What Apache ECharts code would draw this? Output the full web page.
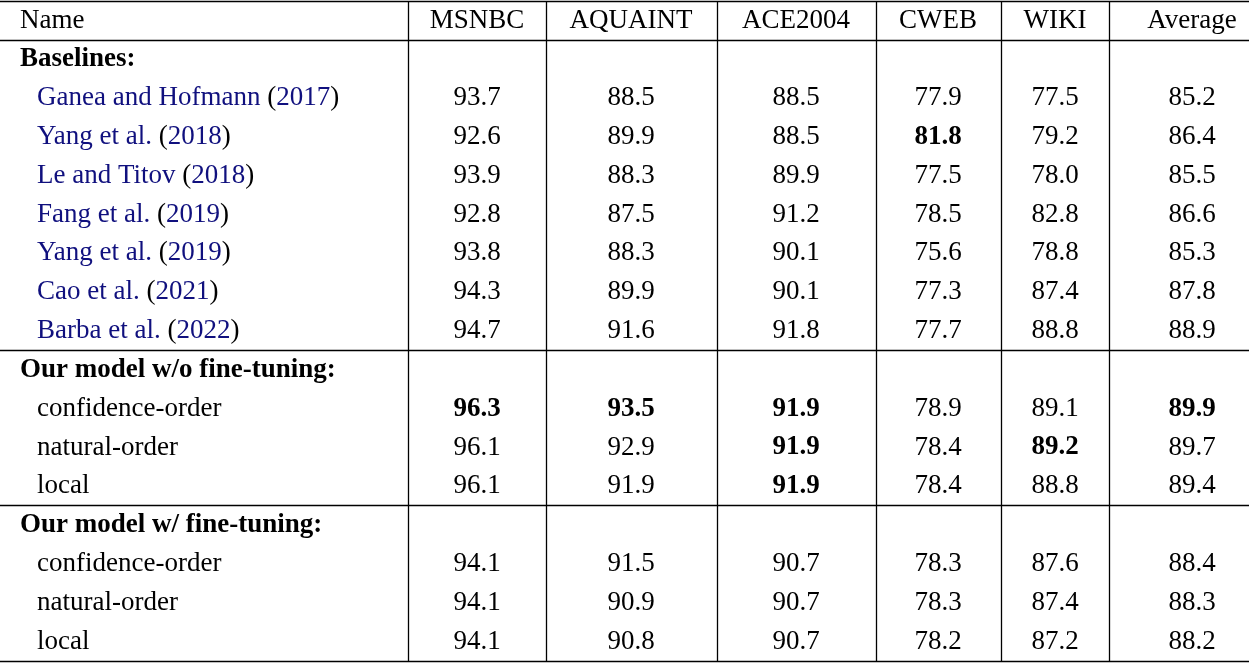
<!DOCTYPE html>
<html>
<head>
<meta charset="utf-8">
<script src="https://cdn.jsdelivr.net/npm/echarts@6/dist/echarts.min.js"></script>
<style>html,body{margin:0;background:#fff}#c{width:1249px;height:666px}</style>
</head>
<body>
<div id="c"></div>
<script>
const headers = ['Name', 'MSNBC', 'AQUAINT', 'ACE2004', 'CWEB', 'WIKI', 'Average'];
// row label, type: g = group heading, c = citation, p = plain
const rowNames = [
  ['Baselines:', 'g'],
  ['Ganea and Hofmann|2017', 'c'],
  ['Yang et al.|2018', 'c'],
  ['Le and Titov|2018', 'c'],
  ['Fang et al.|2019', 'c'],
  ['Yang et al.|2019', 'c'],
  ['Cao et al.|2021', 'c'],
  ['Barba et al.|2022', 'c'],
  ['Our model w/o fine-tuning:', 'g'],
  ['confidence-order', 'p'],
  ['natural-order', 'p'],
  ['local', 'p'],
  ['Our model w/ fine-tuning:', 'g'],
  ['confidence-order', 'p'],
  ['natural-order', 'p'],
  ['local', 'p']
];
const msnbc   = [null, 93.7, 92.6, 93.9, 92.8, 93.8, 94.3, 94.7, null, 96.3, 96.1, 96.1, null, 94.1, 94.1, 94.1];
const aquaint = [null, 88.5, 89.9, 88.3, 87.5, 88.3, 89.9, 91.6, null, 93.5, 92.9, 91.9, null, 91.5, 90.9, 90.8];
const ace2004 = [null, 88.5, 88.5, 89.9, 91.2, 90.1, 90.1, 91.8, null, 91.9, 91.9, 91.9, null, 90.7, 90.7, 90.7];
const cweb    = [null, 77.9, 81.8, 77.5, 78.5, 75.6, 77.3, 77.7, null, 78.9, 78.4, 78.4, null, 78.3, 78.3, 78.2];
const wiki    = [null, 77.5, 79.2, 78.0, 82.8, 78.8, 87.4, 88.8, null, 89.1, 89.2, 88.8, null, 87.6, 87.4, 87.2];
const average = [null, 85.2, 86.4, 85.5, 86.6, 85.3, 87.8, 88.9, null, 89.9, 89.7, 89.4, null, 88.4, 88.3, 88.2];
const columns = [msnbc, aquaint, ace2004, cweb, wiki, average];
// bold cells as [row index in value arrays, column index]
const boldCells = [[2, 3], [9, 0], [9, 1], [9, 2], [9, 5], [10, 2], [10, 4], [11, 2]];

// layout (pixels along the x axis)
const colCenters = [477, 631, 796, 938, 1055, 1192];
const colLines = [408, 546, 717, 876, 1001, 1109];
const hLines = [-0.5, 0.5, 8.5, 12.5, 16.5];

const FONT = 'Liberation Serif';
const SIZE = 27;
const BLUE = '#10107e';

const headerData = headers.map((h, i) => ({value: [i === 0 ? 20 : colCenters[i - 1], 0], txt: h, align: i === 0 ? 'left' : 'center'}));
const nameData = rowNames.map((r, i) => ({value: [r[1] === 'g' ? 20 : 37, i + 1], txt: r[0], kind: r[1]}));

const cellData = [];
columns.forEach((col, ci) => col.forEach((v, ri) => {
  if (v == null) return;
  const bold = boldCells.some(b => b[0] === ri && b[1] === ci);
  cellData.push({value: [colCenters[ci], ri + 1],
    label: {formatter: v.toFixed(1), fontWeight: bold ? 'bold' : 'normal'}});
}));

const base = {type: 'scatter', symbolSize: 0, silent: true, itemStyle: {opacity: 1}};

const chart = echarts.init(document.getElementById('c'));
chart.setOption({
  animation: false,
  grid: {left: 0, right: 0, top: 1, height: 660},
  xAxis: {type: 'value', min: 0, max: 1249, show: false},
  yAxis: {type: 'value', min: -0.5, max: 16.5, inverse: true, show: false},
  series: [
    Object.assign({}, base, {
      data: headerData.map(d => ({value: d.value, label: {formatter: d.txt, align: d.align}})),
      label: {show: true, position: 'inside', color: '#000', fontFamily: FONT, fontSize: SIZE},
      markLine: {
        symbol: 'none', silent: true, label: {show: false},
        lineStyle: {color: '#000', width: 1.3, type: 'solid', opacity: 1},
        data: colLines.map(x => ({xAxis: x})).concat(hLines.map(y => ({yAxis: y})))
      }
    }),
    Object.assign({}, base, {
      data: nameData.map(d => {
        let f;
        if (d.kind === 'c') {
          const [n, y] = d.txt.split('|');
          f = '{b|' + n + ' }{k|(}{b|' + y + '}{k|)}';
        } else if (d.kind === 'g') {
          f = '{g|' + d.txt + '}';
        } else {
          f = '{k|' + d.txt + '}';
        }
        return {value: d.value, label: {formatter: f}};
      }),
      label: {
        show: true, position: 'inside', align: 'left',
        rich: {
          b: {color: BLUE, fontFamily: FONT, fontSize: SIZE},
          k: {color: '#000', fontFamily: FONT, fontSize: SIZE},
          g: {color: '#000', fontFamily: FONT, fontSize: SIZE, fontWeight: 'bold'}
        }
      }
    }),
    Object.assign({}, base, {
      data: cellData,
      label: {show: true, position: 'inside', align: 'center', color: '#000', fontFamily: FONT, fontSize: SIZE}
    })
  ]
});
</script>
</body>
</html>
